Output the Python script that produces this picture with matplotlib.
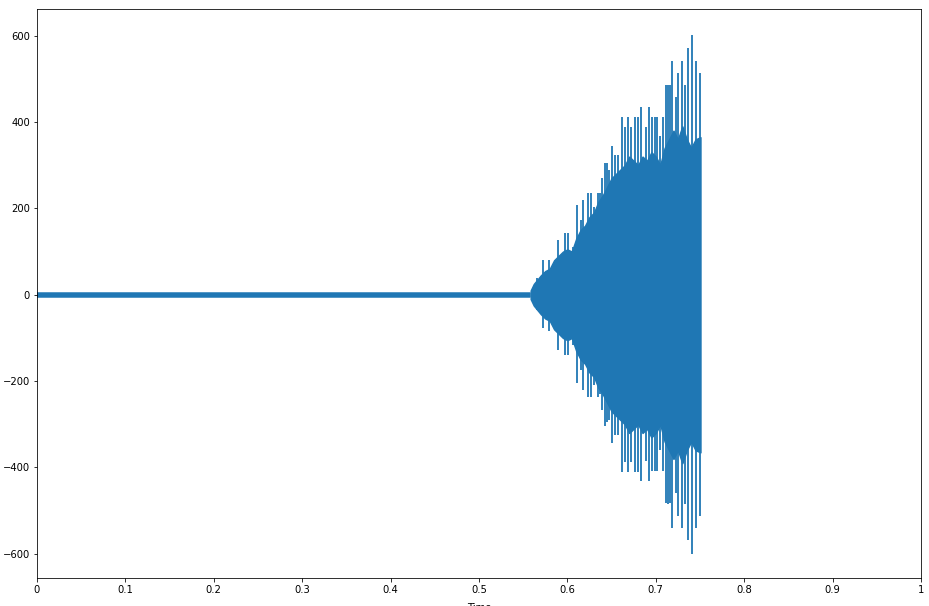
import matplotlib.pyplot as plt
import numpy as np

# flat part before the onset
t_flat = [0.0, 0.558]
flat_amp = 4

# solid body of the signal (upper / lower envelope)
t_body = [0.5585, 0.562, 0.566, 0.57, 0.575, 0.58, 0.585, 0.59, 0.595, 0.60,
          0.605, 0.61, 0.615, 0.62, 0.625, 0.63, 0.635, 0.64, 0.645, 0.65,
          0.655, 0.66, 0.665, 0.67, 0.675, 0.68, 0.685, 0.69, 0.695, 0.70,
          0.705, 0.71, 0.715, 0.72, 0.725, 0.73, 0.735, 0.74, 0.745, 0.7505]
body_hi = [10, 25, 35, 45, 55, 60, 80, 90, 100, 105,
           100, 130, 150, 160, 180, 190, 215, 230, 250, 270,
           280, 290, 300, 320, 310, 300, 320, 310, 330, 320,
           300, 340, 360, 380, 360, 390, 360, 340, 360, 365]
body_lo = [-10, -25, -35, -45, -55, -60, -80, -90, -100, -105,
           -100, -130, -150, -160, -180, -190, -215, -230, -250, -270,
           -280, -290, -300, -320, -310, -300, -320, -310, -330, -320,
           -300, -340, -360, -380, -360, -390, -360, -340, -360, -365]

# peaks sticking out of the body
t_spk = [0.566, 0.572, 0.579, 0.583, 0.589, 0.597, 0.601, 0.606, 0.611, 0.615,
         0.618, 0.623, 0.627, 0.630, 0.635, 0.637, 0.639, 0.643, 0.645, 0.647,
         0.650, 0.654, 0.657, 0.662, 0.665, 0.669, 0.672, 0.676, 0.680, 0.683,
         0.689, 0.692, 0.696, 0.699, 0.701, 0.705, 0.708, 0.712, 0.714, 0.716,
         0.718, 0.723, 0.725, 0.730, 0.733, 0.736, 0.741, 0.745, 0.750]
spk_hi = [40, 81, 81, 58, 127, 143, 143, 110, 208, 173,
          220, 236, 236, 204, 236, 236, 271, 306, 306, 290,
          345, 324, 324, 412, 389, 412, 389, 412, 412, 436,
          388, 436, 411, 411, 411, 367, 411, 486, 486, 486,
          542, 459, 513, 542, 486, 571, 602, 542, 513]
spk_lo = [-35, -77, -85, -65, -127, -139, -139, -116, -204, -174,
          -220, -236, -236, -210, -236, -230, -266, -305, -295, -290,
          -343, -325, -325, -410, -387, -410, -387, -410, -410, -432,
          -386, -432, -409, -409, -409, -359, -409, -482, -485, -482,
          -540, -459, -513, -540, -485, -567, -600, -540, -513]

xticks = [0, 0.1, 0.2, 0.3, 0.4, 0.5, 0.6, 0.7, 0.8, 0.9, 1]
xtick_labels = ['0', '0.1', '0.2', '0.3', '0.4', '0.5', '0.6', '0.7', '0.8', '0.9', '1']

c = '#1f77b4'
fig = plt.figure(figsize=(929 / 72, 606 / 72), dpi=72)
ax = fig.add_axes([0.0398, 0.0462, 0.9516, 0.9390])

ax.fill_between(t_flat, -flat_amp, flat_amp, color=c, lw=1.5)
ax.fill_between(t_body, body_lo, body_hi, color=c, lw=1.5)
ax.vlines(t_spk, spk_lo, spk_hi, color=c, lw=1.8)

ax.set_xlim(0, 1)
ax.set_ylim(-656, 662)
ax.set_xticks(xticks)
ax.set_xticklabels(xtick_labels)
ax.set_yticks([-600, -400, -200, 0, 200, 400, 600])
ax.set_xlabel('Time', labelpad=8)

fig.savefig('out.png', dpi=72)
